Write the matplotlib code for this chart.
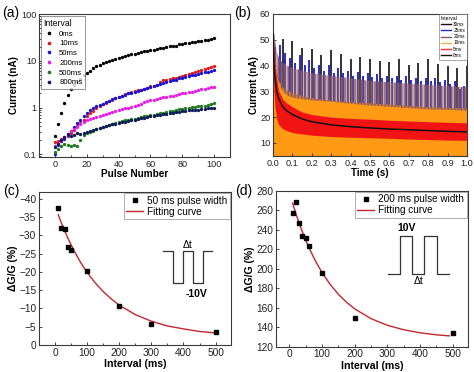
import numpy as np
import matplotlib.pyplot as plt
from matplotlib.lines import Line2D
from matplotlib.patches import Polygon
from matplotlib.ticker import FixedLocator, FuncFormatter, LogLocator, NullFormatter

plt.rcParams['font.family'] = ['Liberation Sans', 'DejaVu Sans']
plt.rcParams['hatch.linewidth'] = 0.9

# ---- (a) current vs pulse number for different intervals ----
pulse_no = np.arange(0, 101, 2)
cur_0ms = [0.25, 0.45, 0.78, 1.25, 1.85, 2.5, 3.0, 3.5, 4.1, 4.9, 5.6, 6.1, 6.9,
           7.6, 8.2, 8.8, 9.4, 10.0, 10.6, 11.0, 11.6, 12.3, 12.6, 13.4, 13.9, 14.3,
           14.6, 15.3, 15.9, 16.2, 16.8, 17.3, 17.5, 18.6, 19.0, 19.8, 20.4, 21.0,
           21.3, 22.5, 23.0, 23.6, 24.5, 24.8, 25.6, 26.0, 26.9, 28.0, 27.8, 29.5, 30.5]
cur_10ms = [0.18, 0.19, 0.21, 0.22, 0.25, 0.29, 0.33, 0.40, 0.47, 0.55, 0.66, 0.75,
            0.86, 0.97, 1.08, 1.18, 1.27, 1.38, 1.48, 1.58, 1.68, 1.80, 1.92, 2.05,
            2.15, 2.25, 2.35, 2.42, 2.55, 2.68, 2.85, 2.95, 3.1, 3.5, 3.8, 3.95, 4.1,
            4.25, 4.3, 4.6, 4.8, 5.0, 5.3, 5.6, 5.8, 6.0, 6.4, 6.8, 7.1, 7.5, 7.9]
cur_50ms = [0.10, 0.16, 0.19, 0.21, 0.26, 0.32, 0.38, 0.46, 0.55, 0.65, 0.78, 0.88,
            0.98, 1.08, 1.14, 1.2, 1.3, 1.4, 1.5, 1.6, 1.66, 1.78, 1.9, 2.0, 2.1, 2.2,
            2.3, 2.38, 2.5, 2.62, 2.75, 2.9, 3.0, 3.2, 3.4, 3.55, 3.7, 3.9, 3.95, 4.2,
            4.4, 4.5, 4.7, 4.9, 5.1, 5.3, 5.5, 5.8, 5.9, 6.1, 6.3]
cur_200ms = [0.15, 0.17, 0.20, 0.23, 0.27, 0.32, 0.35, 0.38, 0.44, 0.50, 0.53, 0.57,
             0.6, 0.64, 0.66, 0.69, 0.73, 0.77, 0.8, 0.85, 0.88, 0.92, 0.97, 1.0, 1.05,
             1.08, 1.15, 1.22, 1.3, 1.38, 1.44, 1.48, 1.55, 1.6, 1.65, 1.7, 1.76, 1.8,
             1.86, 1.95, 2.0, 2.05, 2.15, 2.2, 2.28, 2.35, 2.45, 2.55, 2.6, 2.7, 2.75]
cur_500ms = [0.11, 0.13, 0.15, 0.17, 0.16, 0.15, 0.16, 0.15, 0.2, 0.26, 0.28, 0.3,
             0.32, 0.34, 0.37, 0.39, 0.41, 0.43, 0.45, 0.47, 0.49, 0.51, 0.53, 0.55,
             0.57, 0.58, 0.6, 0.62, 0.65, 0.67, 0.69, 0.71, 0.73, 0.76, 0.78, 0.81,
             0.83, 0.86, 0.88, 0.92, 0.95, 0.97, 0.99, 1.01, 1.03, 1.06, 1.08, 1.1,
             1.12, 1.18, 1.25]
cur_800ms = [0.14, 0.17, 0.2, 0.24, 0.27, 0.25, 0.26, 0.28, 0.27, 0.29, 0.30, 0.31,
             0.33, 0.35, 0.37, 0.38, 0.4, 0.42, 0.44, 0.45, 0.47, 0.49, 0.5, 0.52,
             0.54, 0.55, 0.57, 0.59, 0.61, 0.63, 0.65, 0.66, 0.68, 0.7, 0.72, 0.74,
             0.76, 0.78, 0.8, 0.82, 0.84, 0.85, 0.87, 0.88, 0.89, 0.9, 0.92, 0.94,
             0.96, 0.98, 1.0]
a_labels = ['0ms', '10ms', '50ms', '200ms', '500ms', '800ms']
a_colors = ['#000000', '#e3171f', '#1414d8', '#e81ee8', '#1f7a1f', '#0c1a5a']
a_series = [cur_0ms, cur_10ms, cur_50ms, cur_200ms, cur_500ms, cur_800ms]

# ---- (b) current vs time, envelopes of the pulse responses ----
t_env = [0, 0.005, 0.01, 0.02, 0.03, 0.05, 0.07, 0.1, 0.15, 0.2, 0.3, 0.4, 0.5,
         0.6, 0.7, 0.8, 0.9, 1.0]
i_0ms = [52, 40, 35, 29.5, 27, 24, 22.5, 21, 19.3, 18.2, 17, 16.3, 15.8, 15.4,
         15.1, 14.8, 14.5, 14.3]
i_5ms_hi = [52, 46, 40, 34, 30, 27, 25.5, 24, 22, 21, 20, 19.5, 19.2, 18.8, 18.5,
            18.2, 18, 17.8]
i_5ms_lo = [40, 30, 24, 19, 17, 15.5, 14.8, 14, 13.5, 13, 12.5, 12.2, 12, 11.8,
            11.5, 11.3, 11.1, 11]
i_10ms_hi = [50, 46, 42, 37, 34, 31.5, 30.5, 29.5, 28.3, 27.5, 26.5, 26, 25.5, 25,
             24.5, 24, 23.8, 23.5]
i_20ms_lo = [45, 42, 40, 36, 33, 30, 28.5, 27.5, 27, 26.5, 26, 25.2, 24.5, 24,
             23.5, 23, 22.8, 22.5]
i_20ms_hi = [54, 53, 50, 45, 43, 41, 40, 39, 38, 37, 36, 35, 34, 33.5, 33, 32.5,
             32, 31.5]
spk30_t = [0.05, 0.10, 0.15, 0.20, 0.25, 0.30, 0.35, 0.40, 0.45, 0.50, 0.55, 0.60,
           0.65, 0.70, 0.75, 0.80, 0.85, 0.90, 0.95, 1.00]
spk30_top = [50.2, 49.3, 46.7, 46.3, 44.1, 46.1, 44.4, 42.5, 43.3, 42.5, 41.6, 41.2,
             42.5, 40.3, 40.9, 42.5, 40.7, 39.7, 39.0, 39.7]
spk25_t = np.arange(0.0125, 1.0, 0.025)
spk25_top = [47, 48, 45, 43, 41, 44, 40, 42, 39, 40, 38, 40, 37, 39, 37, 38, 36,
             37.5, 36, 37, 35.5, 36.5, 35, 36, 35, 36, 34.5, 36, 34.5, 35, 34, 35,
             34, 35, 33.5, 34.5, 33, 34, 31, 32]
b_labels = ['30ms', '25ms', '20ms', '10ms', '5ms', '0ms']
b_colors = ['#111111', '#2a2ad0', '#8a5a6a', '#f2b05a', '#f03030', '#111111']

# ---- (c) 50 ms pulse width ----
c_interval = [10, 20, 30, 40, 50, 100, 200, 300, 500]
c_dg = [-37.5, -32.0, -31.7, -26.9, -26.1, -20.3, -10.6, -5.8, -3.5]
c_fit_x = [10, 20, 30, 40, 50, 60, 80, 100, 125, 150, 175, 200, 250, 300, 350, 400,
           450, 500]
c_fit_y = [-35.6, -33.3, -31.2, -29.2, -27.4, -25.6, -22.5, -19.8, -17.0, -14.6,
           -12.6, -10.9, -8.3, -6.5, -5.2, -4.4, -3.7, -3.3]

# ---- (d) 200 ms pulse width ----
d_interval = [10, 20, 30, 40, 50, 60, 100, 200, 500]
d_dg = [257.2, 268.3, 246.8, 233.4, 231.7, 223.0, 196.0, 149.8, 133.9]
d_fit_x = [10, 20, 30, 40, 50, 60, 80, 100, 125, 150, 175, 200, 250, 300, 350, 400,
           450, 490]
d_fit_y = [267.6, 256.9, 247.1, 238.0, 229.6, 221.8, 208.1, 196.3, 184.0, 173.9,
           165.7, 158.9, 148.8, 142.0, 137.4, 134.3, 132.2, 131.1]

fit_color = '#c4262e'
spine_color = '#3a3a3a'


def style_axes(ax, labelsize):
    for sp in ax.spines.values():
        sp.set_color(spine_color)
        sp.set_linewidth(0.8)
    ax.tick_params(direction='in', length=2.5, width=0.6, labelsize=labelsize,
                   pad=2, colors='#222222')
    ax.tick_params(which='minor', direction='in', length=1.5, width=0.5)


fig = plt.figure(figsize=(4.74, 3.72), dpi=100)

# (a)
ax1 = fig.add_axes([0.0823, 0.578, 0.403, 0.384])
for lab, col, vals in zip(a_labels, a_colors, a_series):
    ax1.plot(pulse_no, vals, 'o', ms=2.4, mew=0, color=col, label=lab)
ax1.set_yscale('log')
ax1.set_xlim(-10, 110)
ax1.set_ylim(0.0875, 100)
ax1.xaxis.set_major_locator(FixedLocator([0, 20, 40, 60, 80, 100]))
ax1.xaxis.set_minor_locator(FixedLocator([10, 30, 50, 70, 90]))
ax1.yaxis.set_major_locator(FixedLocator([0.1, 1, 10, 100]))
ax1.yaxis.set_major_formatter(FuncFormatter(lambda v, p: '%g' % v))
ax1.yaxis.set_minor_locator(LogLocator(base=10, subs=np.arange(2, 10)))
ax1.yaxis.set_minor_formatter(NullFormatter())
style_axes(ax1, 6.6)
ax1.set_xlabel('Pulse Number', fontsize=7.2, fontweight='bold', labelpad=0)
ax1.set_ylabel('Current (nA)', fontsize=7, fontweight='bold', labelpad=1)
leg1 = ax1.legend(title='Interval', loc='upper left', fontsize=5.6, title_fontsize=6.2,
                  markerscale=1.1, handlelength=1.4, handletextpad=0.6,
                  labelspacing=0.3, borderpad=0.3, borderaxespad=0.3,
                  fancybox=False, edgecolor='#666666', alignment='left')
leg1.get_frame().set_linewidth(0.6)

# (b)
ax2 = fig.add_axes([0.576, 0.581, 0.409, 0.382])
ax2.vlines(spk25_t, 5, spk25_top, color=b_colors[1], lw=1.4, zorder=1)
ax2.vlines(spk30_t, 5, spk30_top, color=b_colors[0], lw=1.2, zorder=1.2)
ax2.fill_between(t_env, 5, i_10ms_hi, color='#ff9a14', lw=0, zorder=1.5)
band = np.column_stack([np.concatenate([t_env, t_env[::-1]]),
                        np.concatenate([i_20ms_lo, i_20ms_hi[::-1]])])
# tint of the dense 20 ms oscillation, then its vertical strokes
ax2.add_patch(Polygon(band, closed=True, facecolor=b_colors[2], alpha=0.5, lw=0,
                      zorder=1.8))
ax2.add_patch(Polygon(band, closed=True, fill=False, hatch='|||||',
                      edgecolor=b_colors[2], lw=0, zorder=2))
ax2.fill_between(t_env, i_5ms_lo, i_5ms_hi, color='#f21414', lw=0, zorder=3)
ax2.plot(t_env, i_0ms, color='#111111', lw=1.1, zorder=4)
ax2.set_xlim(0, 1.0)
ax2.set_ylim(5, 60)
ax2.xaxis.set_major_locator(FixedLocator(np.round(np.arange(0, 1.01, 0.1), 1)))
ax2.xaxis.set_major_formatter(FuncFormatter(lambda v, p: '%.1f' % v))
ax2.yaxis.set_major_locator(FixedLocator([10, 20, 30, 40, 50, 60]))
style_axes(ax2, 6.6)
ax2.set_xlabel('Time (s)', fontsize=7, fontweight='bold', labelpad=0.5)
ax2.set_ylabel('Current (nA)', fontsize=7, fontweight='bold', labelpad=1)
handles = [Line2D([], [], color=c, lw=1) for c in b_colors]
leg2 = ax2.legend(handles, b_labels, title='Interval', loc='upper right', fontsize=3.4,
                  title_fontsize=3.6, handlelength=2.2, handletextpad=0.5,
                  labelspacing=0.25, borderpad=0.4, borderaxespad=0.0,
                  fancybox=False, edgecolor='#666666', alignment='left')
leg2.get_frame().set_linewidth(0.5)
leg2.set_zorder(10)

# (c)
ax3 = fig.add_axes([0.0823, 0.0726, 0.405, 0.411])
ax3.plot(c_interval, c_dg, 's', ms=3, color='black', label='50 ms pulse width',
         zorder=3)
ax3.plot(c_fit_x, c_fit_y, color=fit_color, lw=1.0, label='Fitting curve')
ax3.set_xlim(-50, 548)
ax3.set_ylim(0, -41.8)
ax3.xaxis.set_major_locator(FixedLocator([0, 100, 200, 300, 400, 500]))
ax3.xaxis.set_minor_locator(FixedLocator([50, 150, 250, 350, 450]))
ax3.yaxis.set_major_locator(FixedLocator(list(range(0, -41, -5))))
style_axes(ax3, 7.3)
ax3.set_xlabel('Interval (ms)', fontsize=7.6, fontweight='bold', labelpad=1)
ax3.set_ylabel('ΔG/G (%)', fontsize=7.6, fontweight='bold', labelpad=1)
leg3 = ax3.legend(loc='upper right', fontsize=7.2, handlelength=1.7, handletextpad=0.4,
                  labelspacing=0.1, borderpad=0.25, borderaxespad=0.1,
                  fancybox=False, edgecolor='#888888')
leg3.get_frame().set_linewidth(0.6)
# pulse scheme
tr = ax3.transAxes
ax3.plot([0.646, 0.698, 0.698, 0.752, 0.752, 0.80, 0.80, 0.853, 0.853, 0.901],
         [0.614, 0.614, 0.405, 0.405, 0.614, 0.614, 0.405, 0.405, 0.614, 0.614],
         color='#333333', lw=0.9, transform=tr)
ax3.text(0.776, 0.622, 'Δt', transform=tr, fontsize=7.5, ha='center', va='bottom')
ax3.text(0.818, 0.333, '-10V', transform=tr, fontsize=7.5, fontweight='bold',
         ha='center', va='center')

# (d)
ax4 = fig.add_axes([0.582, 0.068, 0.405, 0.4186])
ax4.plot(d_interval, d_dg, 's', ms=3.5, color='black', label='200 ms pulse width',
         zorder=3)
ax4.plot(d_fit_x, d_fit_y, color=fit_color, lw=1.0, label='Fitting curve')
ax4.set_xlim(-41, 546)
ax4.set_ylim(120, 280)
ax4.xaxis.set_major_locator(FixedLocator([0, 100, 200, 300, 400, 500]))
ax4.xaxis.set_minor_locator(FixedLocator([50, 150, 250, 350, 450]))
ax4.yaxis.set_major_locator(FixedLocator(list(range(120, 281, 20))))
style_axes(ax4, 7.3)
ax4.set_xlabel('Interval (ms)', fontsize=7.6, fontweight='bold', labelpad=1)
ax4.set_ylabel('ΔG/G (%)', fontsize=7.6, fontweight='bold', labelpad=1)
leg4 = ax4.legend(loc='upper right', fontsize=7.2, handlelength=1.7, handletextpad=0.4,
                  labelspacing=0.1, borderpad=0.25, borderaxespad=0.1,
                  fancybox=False, edgecolor='#888888')
leg4.get_frame().set_linewidth(0.6)
tr = ax4.transAxes
ax4.plot([0.583, 0.647, 0.647, 0.710, 0.710, 0.774, 0.774, 0.839, 0.839, 0.903],
         [0.469, 0.469, 0.713, 0.713, 0.469, 0.469, 0.713, 0.713, 0.469, 0.469],
         color='#333333', lw=0.9, transform=tr)
ax4.text(0.682, 0.73, '10V', transform=tr, fontsize=7.5, fontweight='bold',
         ha='center', va='bottom')
ax4.text(0.742, 0.455, 'Δt', transform=tr, fontsize=7.5, ha='center', va='top')

# panel letters
fig.text(0.004, 0.966, '(a)', fontsize=10, va='center')
fig.text(0.494, 0.966, '(b)', fontsize=10, va='center')
fig.text(0.006, 0.487, '(c)', fontsize=10, va='center')
fig.text(0.497, 0.486, '(d)', fontsize=10, va='center')

fig.savefig('out.png', dpi=100)
